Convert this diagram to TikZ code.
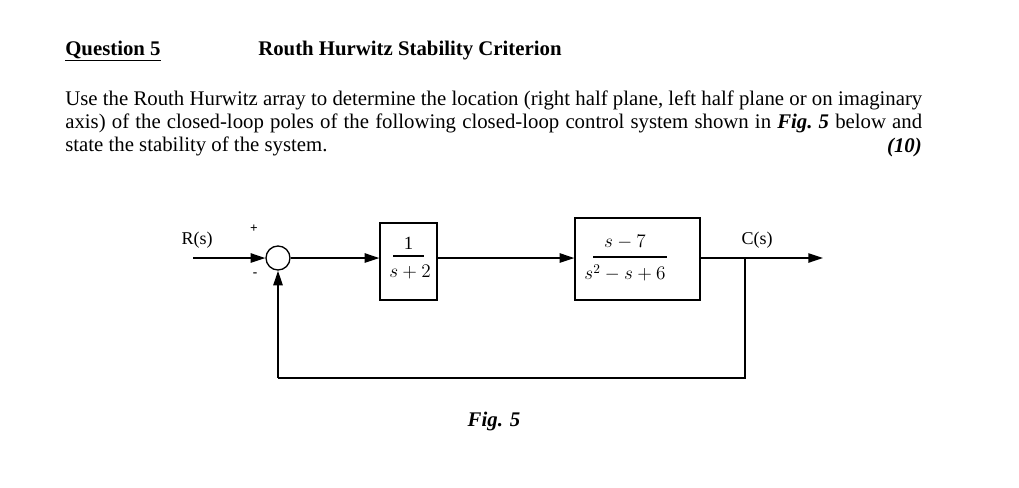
\documentclass[tikz,border=0pt]{standalone}
\usepackage{fontspec}
\setmainfont{Liberation Serif}
\usetikzlibrary{arrows.meta}
\begin{document}
\begin{tikzpicture}[x=0.75pt,y=-0.75pt,
  blk/.style={draw,line width=1pt,inner sep=0pt},
  sig/.style={line width=1.1pt,-{Triangle[length=11pt,width=7pt]}},
  wire/.style={line width=1.1pt},
  txt/.style={font=\fontsize{15.6}{17}\selectfont,inner sep=0pt},
  mth/.style={font=\fontsize{14}{16}\selectfont,inner sep=0pt}]
\useasboundingbox (0,0) rectangle (1019,487);
\node[txt,anchor=base west,font=\fontsize{15.6}{17}\selectfont\bfseries] (q) at (65,55) {\underline{Question 5}};
\node[txt,anchor=base west,font=\fontsize{15.6}{17}\selectfont\bfseries] (t) at (258,55) {Routh Hurwitz Stability Criterion};
\node[txt,anchor=base west,text width=857*0.75pt,align=justify,font=\fontsize{15.6}{17.25}\selectfont] (p) at (65,105)
 {Use the Routh Hurwitz array to determine the location (right half plane, left half plane or on imaginary axis) of the closed-loop poles of the following closed-loop control system shown in \textbf{\textit{Fig.~5}} below and state the stability of the system.};
\node[txt,anchor=base east,font=\fontsize{15.6}{17}\selectfont\bfseries\itshape] (m) at (922,152) {(10)};
\node[draw,circle,line width=1pt,minimum size=24*0.75pt,inner sep=0pt] (sum) at (278,258) {};
\node[blk,minimum width=57*0.75pt,minimum height=77*0.75pt] (b1) at (408.5,261.5) {};
\node[mth] at (408.5,243) {1};
\draw[line width=0.9pt] (393,256) -- (424,256);
\node[mth] (f1) at (410,272) {$s+2$};
\node[blk,minimum width=125*0.75pt,minimum height=82*0.75pt] (b2) at (637.5,259) {};
\node[mth] at (625,242) {$s-7$};
\draw[line width=0.9pt] (593,257) -- (667,257);
\node[mth] (f2) at (625,273) {$s^2-s+6$};
\coordinate (r0) at (193,258);
\coordinate (out) at (823,258);
\coordinate (br) at (745,258);
\coordinate (c1) at (745,378);
\coordinate (c2) at (278,378);
\draw[sig] (r0) -- (sum.west);
\draw[sig] (sum.east) -- (b1.west |- sum.east);
\draw[sig] (b1.east |- sum.east) -- (b2.west |- sum.east);
\draw[sig] (b2.east |- sum.east) -- (out);
\draw[wire] (br) -- (c1) -- (c2);
\draw[sig] (c2) -- (sum.south);
\node[txt,font=\fontsize{13.5}{15}\selectfont] (rs) at (197,240) {R(s)};
\node[txt,font=\fontsize{13.5}{15}\selectfont] (cs) at (757,240) {C(s)};
\node[txt,font=\bfseries] (plus) at (254,229) {+};
\node[txt,font=\bfseries] (minus) at (255,275) {-};
\node[txt,font=\fontsize{15.6}{17}\selectfont\bfseries\itshape] (fig) at (494,421) {Fig. 5};
\end{tikzpicture}
\end{document}
